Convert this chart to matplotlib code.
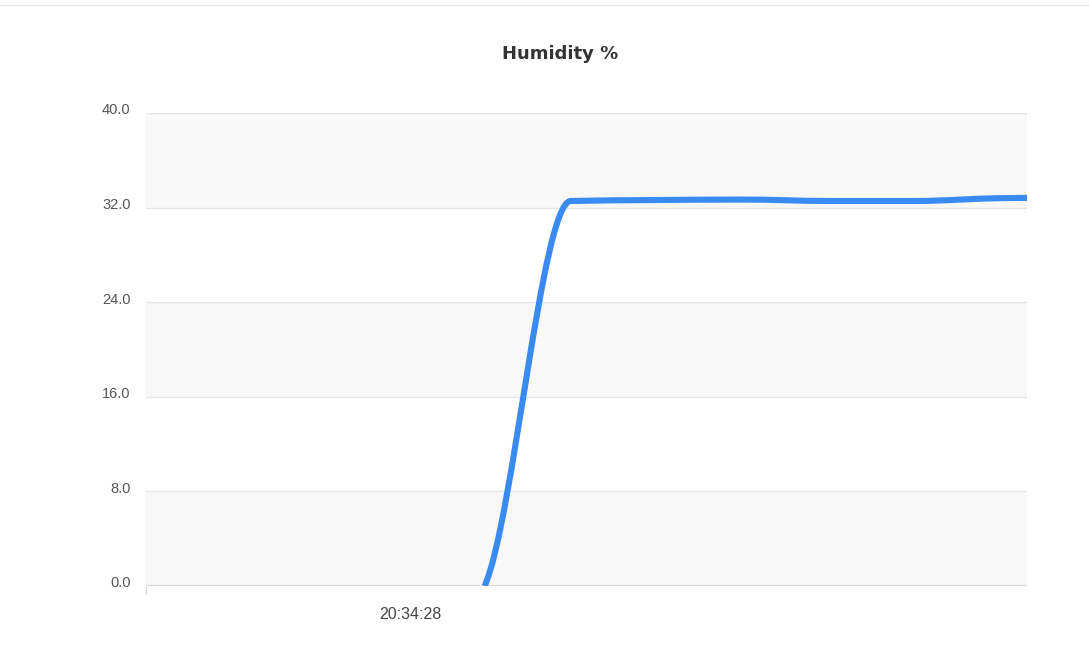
import matplotlib
matplotlib.use('Agg')
import matplotlib.pyplot as plt
from matplotlib.path import Path
from matplotlib.patches import PathPatch
from matplotlib.lines import Line2D
import matplotlib.transforms as mtransforms

plt.rcParams['font.family'] = 'Liberation Sans'

# Humidity readings (seconds after 20:34:00) and values in %
times = [30.6, 33.6, 36.6, 39.6, 42.6, 45.6, 48.6, 49.5]
humidity = [0.0, 32.56, 32.64, 32.68, 32.56, 32.56, 32.8, 32.82]

x_range = [18.8, 49.5]
y_ticks = [0.0, 8.0, 16.0, 24.0, 32.0, 40.0]
x_tick_pos = [28.0]
x_tick_labels = ['20:34:28']

line_color = '#3a8bf1'
band_color = '#f8f8f8'
grid_color = '#e6e6e6'
axis_color = '#d8d8d8'


def smooth_path(xs, ys):
    # monotone cubic bezier through the readings (spline-like look)
    n = len(xs)
    d = [(ys[i + 1] - ys[i]) / (xs[i + 1] - xs[i]) for i in range(n - 1)]
    m = [0.0] * n
    m[0] = 0.5 * d[0]
    m[-1] = 0.5 * d[-1]
    for i in range(1, n - 1):
        if d[i - 1] * d[i] <= 0:
            m[i] = 0.0
        else:
            m[i] = 2 * d[i - 1] * d[i] / (d[i - 1] + d[i])
    verts = [(xs[0], ys[0])]
    codes = [Path.MOVETO]
    for i in range(n - 1):
        h = (xs[i + 1] - xs[i]) / 3.0
        verts += [(xs[i] + h, ys[i] + m[i] * h),
                  (xs[i + 1] - h, ys[i + 1] - m[i + 1] * h),
                  (xs[i + 1], ys[i + 1])]
        codes += [Path.CURVE4] * 3
    return Path(verts, codes)


fig = plt.figure(figsize=(10.89, 6.63), dpi=100)
ax = fig.add_axes([146 / 1089, 1 - 586 / 663, (1027 - 146) / 1089, (586 - 113) / 663])

# alternating bands
for lo in [0.0, 16.0, 32.0]:
    ax.axhspan(lo, lo + 8.0, color=band_color, zorder=0, lw=0)
for yv in y_ticks[1:]:
    ax.axhline(yv, color=grid_color, lw=1.0, zorder=1)
ax.axhline(0.0, color=axis_color, lw=1.6, zorder=1)

patch = PathPatch(smooth_path(times, humidity), facecolor='none', edgecolor=line_color,
                  lw=4.4, capstyle='butt', joinstyle='round', zorder=3)
ax.add_patch(patch)

ax.set_xlim(x_range)
ax.set_ylim(0, 40)
for s in ax.spines.values():
    s.set_visible(False)

ax.set_yticks(y_ticks)
ax.set_yticklabels(['%.1f' % v for v in y_ticks])
ax.tick_params(axis='y', length=0, pad=11, labelsize=10.5, labelcolor='#555555')
offset = mtransforms.ScaledTranslation(0, 3 / 72, fig.dpi_scale_trans)
for lab in ax.get_yticklabels():
    lab.set_transform(lab.get_transform() + offset)

ax.set_xticks(x_tick_pos)
ax.set_xticklabels(x_tick_labels)
ax.tick_params(axis='x', length=0, pad=15, labelsize=11.5, labelcolor='#444444')
ax.set_xticks([x_range[0]], minor=True)
ax.tick_params(axis='x', which='minor', length=6, width=1, color=axis_color)

fig.text(560 / 1089, 1 - 54 / 663, 'Humidity %', ha='center', va='center',
         fontsize=13, fontweight='bold', color='#333333', family='DejaVu Sans')

fig.add_artist(Line2D([0, 1], [1 - 4.5 / 663, 1 - 4.5 / 663], color='#e3e6ea', lw=1,
                      transform=fig.transFigure))

fig.savefig('out.png', dpi=100)
